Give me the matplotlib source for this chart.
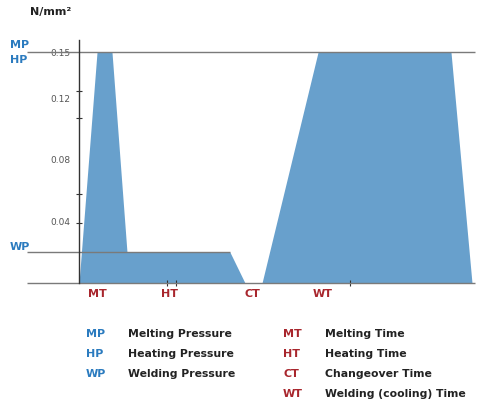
import matplotlib
matplotlib.use("Agg")
import matplotlib.pyplot as plt

# Data (time in arbitrary units, pressure in N/mm²)
time_pts = [0, 1.8, 3.3, 4.8, 15.1, 16.6, 18.3, 23.9, 37.2, 39.3]
pressure_pts = [0, 0.15, 0.15, 0.02, 0.02, 0, 0, 0.15, 0.15, 0]

ytick_vals = [0.04, 0.08, 0.12, 0.15]
ytick_labels = ["0.04", "0.08", "0.12", "0.15"]
ytick_minor = [0.039, 0.058, 0.107, 0.125]

xlabel_pos = [1.8, 9.0, 17.3, 24.4]
xlabel_text = ["MT", "HT", "CT", "WT"]
xtick_minor = [1.8, 8.8, 9.7, 27.1]

mp_level = 0.15
wp_level = 0.02
wp_end = 15.1
press_abbr = ["MP", "HP", "WP"]
press_names = ["Melting Pressure", "Heating Pressure", "Welding Pressure"]
time_abbr = ["MT", "HT", "CT", "WT"]
time_names = ["Melting Time", "Heating Time", "Changeover Time", "Welding (cooling) Time"]

BLUE_TXT = "#2b7bbf"
RED_TXT = "#a8262d"
FILL = "#68a0cc"
LINE = "#7a7a7a"
DARK = "#222222"

plt.rcParams["font.family"] = ["DejaVu Sans"]

W, H = 480, 404
fig = plt.figure(figsize=(W / 100, H / 100), dpi=100)

ax_l, ax_r, ax_t, ax_b = 79, 475, 40, 283
ax = fig.add_axes([ax_l / W, 1 - ax_b / H, (ax_r - ax_l) / W, (ax_b - ax_t) / H])
x_max = 39.6
ax.set_xlim(0, x_max)
ax.set_ylim(0, 0.158)
x_ext = -(ax_l - 27) / (ax_r - ax_l) * x_max

ax.fill_between(time_pts, pressure_pts, 0, color=FILL, lw=0, zorder=1)

ax.hlines(mp_level, x_ext, x_max, color=LINE, lw=1.0, clip_on=False, zorder=2)
ax.hlines(wp_level, x_ext, wp_end, color=LINE, lw=1.0, clip_on=False, zorder=2)
ax.hlines(0, x_ext, x_max, color=LINE, lw=1.0, clip_on=False, zorder=2)

for s in ["top", "right", "bottom"]:
    ax.spines[s].set_visible(False)
ax.spines["left"].set_color("#333333")
ax.spines["left"].set_linewidth(1.0)
ax.spines["left"].set_zorder(3)

ax.set_yticks(ytick_vals)
ax.set_yticklabels(ytick_labels, fontsize=6.5, color="#555555")
ax.set_yticks(ytick_minor, minor=True)
ax.tick_params(axis="y", which="major", length=0, pad=6)
ax.tick_params(axis="y", which="minor", length=4, direction="inout", color="#333333", width=0.8)

ax.set_xticks(xlabel_pos)
ax.set_xticklabels(xlabel_text, fontsize=8, color=RED_TXT, fontweight="bold")
ax.set_xticks(xtick_minor, minor=True)
ax.tick_params(axis="x", which="major", length=0, pad=4)
ax.tick_params(axis="x", which="minor", length=5, direction="inout", color="#333333", width=0.8)

# Left side pressure labels
fig.text(10 / W, 1 - 45 / H, "MP", color=BLUE_TXT, fontsize=8, fontweight="bold", va="center", ha="left")
fig.text(10 / W, 1 - 60 / H, "HP", color=BLUE_TXT, fontsize=8, fontweight="bold", va="center", ha="left")
fig.text(10 / W, 1 - 247 / H, "WP", color=BLUE_TXT, fontsize=8, fontweight="bold", va="center", ha="left")
fig.text(30 / W, 1 - 12 / H, "N/mm²", color=DARK, fontsize=8, fontweight="bold", va="center", ha="left")

# Legend
rows = [334, 354, 374, 394]
for i, (a, n) in enumerate(zip(press_abbr, press_names)):
    y = 1 - rows[i] / H
    fig.text(86 / W, y, a, color=BLUE_TXT, fontsize=8, fontweight="bold", va="center")
    fig.text(128 / W, y, n, color=DARK, fontsize=7.8, fontweight="semibold", va="center")
for i, (a, n) in enumerate(zip(time_abbr, time_names)):
    y = 1 - rows[i] / H
    fig.text(283 / W, y, a, color=RED_TXT, fontsize=8, fontweight="bold", va="center")
    fig.text(325 / W, y, n, color=DARK, fontsize=7.8, fontweight="semibold", va="center")

fig.savefig("out.png", dpi=100)
